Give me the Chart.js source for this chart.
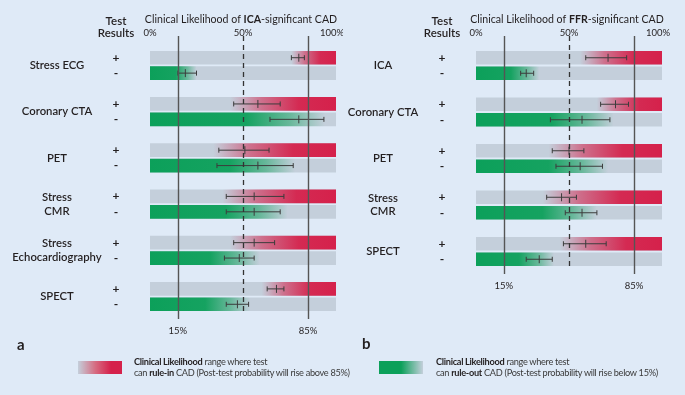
<!DOCTYPE html>
<html><head><meta charset="utf-8">
<script src="https://cdn.jsdelivr.net/npm/chart.js@4"></script>
<style>
html,body{margin:0;padding:0;background:#dfeaf7;}
#wrap{position:relative;width:685px;height:395px;background:#dfeaf7;font-family:Lato,"Open Sans",sans-serif;color:#231f20;}
canvas{position:absolute;top:0;}
.lbl{position:absolute;font-size:15px;font-weight:bold;}
.sw{position:absolute;height:13px;width:44px;}
.lt{position:absolute;font-size:9.2px;line-height:11px;letter-spacing:-0.3px;color:#3a3a3a;white-space:nowrap;}
.lt b{color:#231f20;}
</style></head><body>
<div id="wrap">
<canvas id="ca" width="343" height="395" style="left:0;width:343px;height:395px"></canvas>
<canvas id="cb" width="342" height="395" style="left:343px;width:342px;height:395px"></canvas>
<div class="lbl" style="left:17px;top:335px">a</div>
<div class="lbl" style="left:362px;top:334px">b</div>
<div class="sw" style="left:78px;top:361px;background:linear-gradient(90deg,#c4cfdb 0%,#d66a80 40%,#d5214b 75%,#d5214b 100%)"></div>
<div class="lt" style="left:134px;top:356px"><b>Clinical Likelihood</b> range where test<br>can <b>rule-in</b> CAD (Post-test probability will rise above 85%)</div>
<div class="sw" style="left:379px;top:361px;background:linear-gradient(90deg,#0ca05a 0%,#0ca05a 50%,#c4cfdb 100%)"></div>
<div class="lt" style="left:436px;top:356px"><b>Clinical Likelihood</b> range where test<br>can <b>rule-out</b> CAD (Post-test probability will rise below 15%)</div>
</div>
<script>
// ---------- Panel a data (ICA-significant CAD) ----------
const testsA = [["Stress ECG"], ["Coronary CTA"], ["PET"], ["Stress","CMR"], ["Stress","Echocardiography"], ["SPECT"]];
const ruleInStartA = [76, 43, 34, 39, 43, 60];
const posLoA  = [76, 45, 37, 41, 45, 63];
const posMidA = [80, 58, 51, 56, 56, 68];
const posHiA  = [83, 70, 64, 72, 67, 72];
const ruleOutEndA = [25, 94, 78, 74, 59, 54];
const negLoA  = [15, 64.5, 36, 41, 40, 41];
const negMidA = [19, 80, 58, 56, 48, 47];
const negHiA  = [25, 93.5, 77, 70, 56, 53];

// ---------- Panel b data (FFR-significant CAD) ----------
const testsB = [["ICA"], ["Coronary CTA"], ["PET"], ["Stress","CMR"], ["SPECT"]];
const ruleInStartB = [56, 65, 39, 36, 45];
const posLoB  = [59, 67, 41, 38, 47];
const posMidB = [71, 75, 50, 46, 59];
const posHiB  = [81, 82, 58, 54, 70];
const ruleOutEndB = [34, 74, 71, 65, 42];
const negLoB  = [24, 40, 43, 48, 27];
const negMidB = [27, 57, 56, 57, 34];
const negHiB  = [31, 72, 68, 65, 41];

const topTicks = [0, 50, 100];
const bottomTicks = [15, 85];
const refLines = [15, 50, 85];

const FONT = 'Lato, "Open Sans", sans-serif';
const RED = [213,33,75], GREEN = [12,160,90];
const rgba = (c,a) => `rgba(${c[0]},${c[1]},${c[2]},${a})`;

function makePanel(id, tests, inStart, pLo, pMid, pHi, outEnd, nLo, nMid, nHi, focus, pad) {
  const labels = [], grey = [], red = [], green = [];
  tests.forEach((t, g) => {
    labels.push("+"); grey.push([0,100]); red.push([inStart[g],100]); green.push(null);
    labels.push("-"); grey.push([0,100]); red.push(null); green.push([0,outEnd[g]]);
    if (g < tests.length - 1) { labels.push(""); grey.push(null); red.push(null); green.push(null); }
  });
  const grad = (ctx, kind) => {
    const chart = ctx.chart; const v = ctx.raw;
    if (!chart.chartArea || !v) return 'rgba(0,0,0,0)';
    const x = chart.scales.x;
    const x0 = x.getPixelForValue(v[0]), x1 = x.getPixelForValue(v[1]);
    const gr = chart.ctx.createLinearGradient(x0, 0, x1, 0);
    if (kind === 'red') {
      gr.addColorStop(0, rgba(RED,0)); gr.addColorStop(0.3, rgba(RED,0.55));
      gr.addColorStop(0.65, rgba(RED,0.95)); gr.addColorStop(1, rgba(RED,1));
    } else {
      gr.addColorStop(0, rgba(GREEN,1)); gr.addColorStop(0.55, rgba(GREEN,0.95));
      gr.addColorStop(0.8, rgba(GREEN,0.5)); gr.addColorStop(1, rgba(GREEN,0));
    }
    return gr;
  };
  const deco = {
    id: 'deco' + id,
    afterDatasetsDraw(chart) {
      const c = chart.ctx, x = chart.scales.x, y = chart.scales.y, a = chart.chartArea;
      c.save();
      // error bars
      c.strokeStyle = '#3c3c3c'; c.lineWidth = 1;
      const eb = (lo, mid, hi, yy) => {
        const xl = x.getPixelForValue(lo), xm = x.getPixelForValue(mid), xh = x.getPixelForValue(hi);
        c.beginPath();
        c.moveTo(xl, yy); c.lineTo(xh, yy);
        c.moveTo(xl, yy-2.5); c.lineTo(xl, yy+2.5);
        c.moveTo(xh, yy-2.5); c.lineTo(xh, yy+2.5);
        c.moveTo(xm, yy-4); c.lineTo(xm, yy+4);
        c.stroke();
      };
      tests.forEach((t, g) => {
        eb(pLo[g], pMid[g], pHi[g], y.getPixelForValue(g*3));
        eb(nLo[g], nMid[g], nHi[g], y.getPixelForValue(g*3+1));
      });
      // reference lines
      refLines.forEach(v => {
        const px = Math.round(x.getPixelForValue(v)) + 0.5;
        c.beginPath();
        if (v === 50) { c.setLineDash([5,4]); c.strokeStyle = '#333'; c.lineWidth = 1.3; }
        else { c.setLineDash([]); c.strokeStyle = '#555'; c.lineWidth = 1.4; }
        c.moveTo(px, a.top - 14); c.lineTo(px, a.bottom + (v === 50 ? 0 : 7));
        c.stroke();
      });
      c.setLineDash([]);
      // texts
      c.fillStyle = '#231f20'; c.textBaseline = 'middle'; c.textAlign = 'center';
      const colX = a.left - 34;
      c.font = `600 11.5px ${FONT}`;
      c.fillText('Test', colX, 21); c.fillText('Results', colX, 33);
      // title with bold focus word
      const parts = [['Clinical Likelihood of ', '400'], [focus, 'bold'], ['-significant CAD', '400']];
      const TS = 10.6;
      let w = 0; parts.forEach(p => { c.font = `${p[1]} ${TS}px ${FONT}`; w += c.measureText(p[0]).width; });
      let sx = (a.left + a.right) / 2 - 2 - w / 2; c.textAlign = 'left';
      parts.forEach(p => { c.font = `${p[1]} ${TS}px ${FONT}`; c.fillText(p[0], sx, 20); sx += c.measureText(p[0]).width; });
      c.textAlign = 'center'; c.font = `400 9.5px ${FONT}`;
      topTicks.forEach(v => c.fillText(v + '%', x.getPixelForValue(v) - (v === 100 ? 4 : 0), 33));
      bottomTicks.forEach(v => c.fillText(v + '%', x.getPixelForValue(v), a.bottom + 19));
      // test names and +/- signs
      tests.forEach((t, g) => {
        const yp = y.getPixelForValue(g*3), ym = y.getPixelForValue(g*3+1);
        c.font = `bold 12px ${FONT}`;
        c.fillText('+', colX, yp); c.fillText('-', colX, ym);
        c.font = `600 11.3px ${FONT}`;
        const cy = (yp + ym) / 2, n = t.length;
        t.forEach((line, i) => c.fillText(line, a.left - 93, cy + (i - (n-1)/2) * 13.5));
      });
      c.restore();
    }
  };
  return new Chart(document.getElementById(id), {
    type: 'bar',
    data: { labels, datasets: [
      { data: grey, backgroundColor: '#c4cfdb', grouped: false, barThickness: 13, order: 3 },
      { data: red, backgroundColor: ctx => grad(ctx, 'red'), grouped: false, barThickness: 13, order: 2 },
      { data: green, backgroundColor: ctx => grad(ctx, 'green'), grouped: false, barThickness: 13, order: 1 }
    ]},
    options: {
      indexAxis: 'y', responsive: false, animation: false,
      layout: { padding: pad },
      scales: { x: { display: false, min: 0, max: 100 }, y: { display: false } },
      plugins: { legend: { display: false }, tooltip: { enabled: false } }
    },
    plugins: [deco]
  });
}
makePanel('ca', testsA, ruleInStartA, posLoA, posMidA, posHiA, ruleOutEndA, negLoA, negMidA, negHiA, 'ICA',
  { left: 150, right: 7, top: 50, bottom: 83 });
makePanel('cb', testsB, ruleInStartB, posLoB, posMidB, posHiB, ruleOutEndB, negLoB, negMidB, negHiB, 'FFR',
  { left: 133, right: 23, top: 50, bottom: 128 });
</script>
</body></html>
